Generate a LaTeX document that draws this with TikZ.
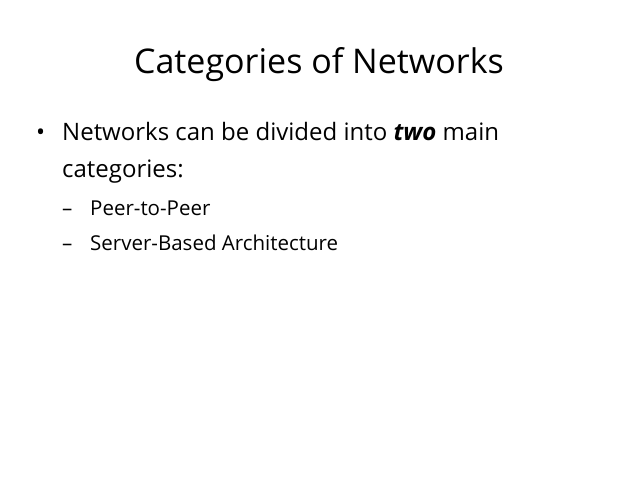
\documentclass[tikz,border=0pt]{standalone}
\usepackage{fontspec}
\setmainfont{Open Sans}
\begin{document}
\begin{tikzpicture}[x=1pt,y=-1pt,
  txt/.style={anchor=base west,inner sep=0pt,font=\fontsize{24}{30}\selectfont},
  sub/.style={anchor=base west,inner sep=0pt,font=\fontsize{20.5}{25}\selectfont}]
\useasboundingbox[fill=white] (0,0) rectangle (638,478);
\node[anchor=base,inner sep=0pt,font=\fontsize{34}{40}\selectfont] (title) at (319,74) {Categories of Networks};
\node[txt] (b1) at (36,141) {•};
\node[txt] (l1) at (62,141) {Networks can be divided into \textbf{\textit{two}} main};
\node[txt] (l2) at (62,178) {categories:};
\node[sub] (d1) at (62,216) {–};
\node[sub] (s1) at (90,216) {Peer-to-Peer};
\node[sub] (d2) at (62,251) {–};
\node[sub] (s2) at (90,251) {Server-Based Architecture};
\end{tikzpicture}
\end{document}
